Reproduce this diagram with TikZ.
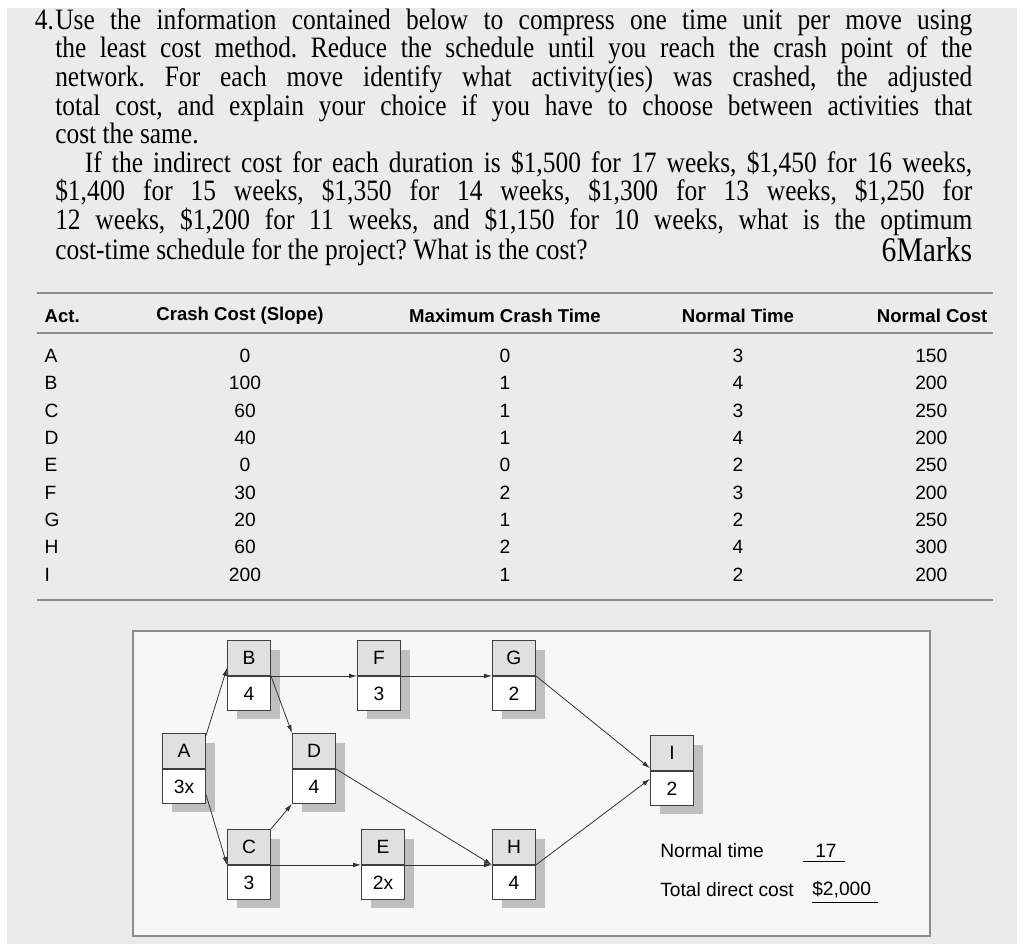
\documentclass[tikz,border=0pt]{standalone}
\usepackage{fontspec}
\setmainfont{Liberation Serif}
\newfontfamily\condfont[FakeStretch=0.86]{Liberation Serif}
\newfontfamily\tabfont{Liberation Sans}
\usetikzlibrary{arrows.meta}
\begin{document}
\begin{tikzpicture}[x=0.0265cm,y=-0.0265cm,
  hdr/.style={font=\tabfont\bfseries\fontsize{14}{16}\selectfont},
  cell/.style={font=\tabfont\fontsize{14.5}{16}\selectfont},
  box/.style={draw=black!75,line width=0.7pt,minimum width=43*0.0265cm,inner sep=0pt,font=\tabfont\fontsize{14.5}{16}\selectfont},
  topbox/.style={box,fill=black!12,minimum height=35*0.0265cm},
  botbox/.style={box,fill=white,minimum height=34*0.0265cm},
  shadow/.style={fill=black!25},
  arr/.style={draw=black!80,line width=0.6pt,-{Latex[length=6pt,width=3.5pt]}},
  lbl/.style={font=\tabfont\fontsize{14.5}{16}\selectfont,anchor=west,inner sep=0pt}]
\path[fill=white] (0,0) rectangle (1024,951);
\path[fill=black!8] (7,8) rectangle (1017,944);
\useasboundingbox (0,0) rectangle (1024,951);
% question text
\node[anchor=north west,inner sep=0pt,text width=917*0.0265cm,align=justify,font=\condfont\fontsize{22.3}{21.6}\selectfont] (q) at (55,8) {\frenchspacing
\llap{4.\kern1pt}Use the information contained below to compress one time unit per move using\linebreak
the least cost method. Reduce the schedule until you reach the crash point of the\linebreak
network. For each move identify what activity(ies) was crashed, the adjusted\linebreak
total cost, and explain your choice if you have to choose between activities that\linebreak
cost the same.\par
\hspace*{1.0em}If the indirect cost for each duration is \$1,500 for 17 weeks, \$1,450 for 16 weeks,\linebreak
\$1,400 for 15 weeks, \$1,350 for 14 weeks, \$1,300 for 13 weeks, \$1,250 for\linebreak
12 weeks, \$1,200 for 11 weeks, and \$1,150 for 10 weeks, what is the optimum\linebreak
cost-time schedule for the project? What is the cost?\hfill\raisebox{-1pt}{\fontsize{26}{26}\selectfont 6Marks}\hspace*{22pt}};
% table
\draw[black!45,line width=1.3pt] (37,293) -- (993,293);
\draw[black!45,line width=1pt] (37,333) -- (993,333);
\draw[black!45,line width=1.3pt] (37,600) -- (993,600);
\node[hdr,anchor=west] (h1) at (40,316) {Act.};
\node[hdr] (h2) at (240,316) {Crash Cost (Slope)};
\node[hdr] (h3) at (505,316) {Maximum Crash Time};
\node[hdr] (h4) at (738,316) {Normal Time};
\node[hdr,anchor=east] (h5) at (992,316) {Normal Cost};
\foreach \a/\c/\m/\t/\n [count=\i from 0] in {A/0/0/3/150,B/100/1/4/200,C/60/1/3/250,D/40/1/4/200,E/0/0/2/250,F/30/2/3/200,G/20/1/2/250,H/60/2/4/300,I/200/1/2/200}{
  \node[cell,anchor=west] (ra\i) at (40,356+27.3*\i) {\a};
  \node[cell] (rc\i) at (245,356+27.3*\i) {\c};
  \node[cell] (rm\i) at (505,356+27.3*\i) {\m};
  \node[cell] (rt\i) at (738,356+27.3*\i) {\t};
  \node[cell,anchor=east] (rn\i) at (952,356+27.3*\i) {\n};
}
% network frame
\draw[black!45,fill=black!3,line width=1.5pt] (133,631) rectangle (930,936);
\newcommand\actbox[5]{%
  \fill[shadow] (#2+10,#3+10) rectangle (#2+53,#3+79);
  \node[topbox,anchor=north west] (#1) at (#2,#3) {#4};
  \node[botbox,anchor=north] (#1d) at (#1.south) {#5};
}
\actbox{A}{162}{733}{A}{3x}
\actbox{B}{227}{640}{B}{4}
\actbox{C}{227}{829}{C}{3}
\actbox{D}{292}{733}{D}{4}
\actbox{F}{357}{640}{F}{3}
\actbox{E}{361}{829}{E}{2x}
\actbox{G}{492}{640}{G}{2}
\actbox{H}{492}{829}{H}{4}
\actbox{I}{650}{735}{I}{2}
\draw[arr] ([yshift=-2pt]A.north east) -- ([yshift=6pt]B.south west);
\draw[arr] ([yshift=-6pt]Ad.east) -- (C.south west);
\draw[arr] (B.south east) -- (F.south west);
\draw[arr] (F.south east) -- (G.south west);
\draw[arr] (B.south east) -- (D.north west);
\draw[arr] (C.north east) -- (Dd.south west);
\draw[arr] (C.south east) -- (E.south west);
\draw[arr] (E.south east) -- (H.south west);
\draw[arr] (D.south east) -- (H.south west);
\draw[arr] (G.south east) -- ([yshift=2pt]I.south west);
\draw[arr] (H.south east) -- ([yshift=-6pt]I.south west);
% labels
\node[lbl] (nt) at (660,851) {Normal time};
\node[lbl] (nv) at (815,851) {17};
\draw[black] (803,861) -- (845,861);
\node[lbl] (tc) at (660,890) {Total direct cost};
\node[lbl] (tv) at (812,890) {\$2,000};
\draw[black] (812,902) -- (878,902);
\end{tikzpicture}
\end{document}
